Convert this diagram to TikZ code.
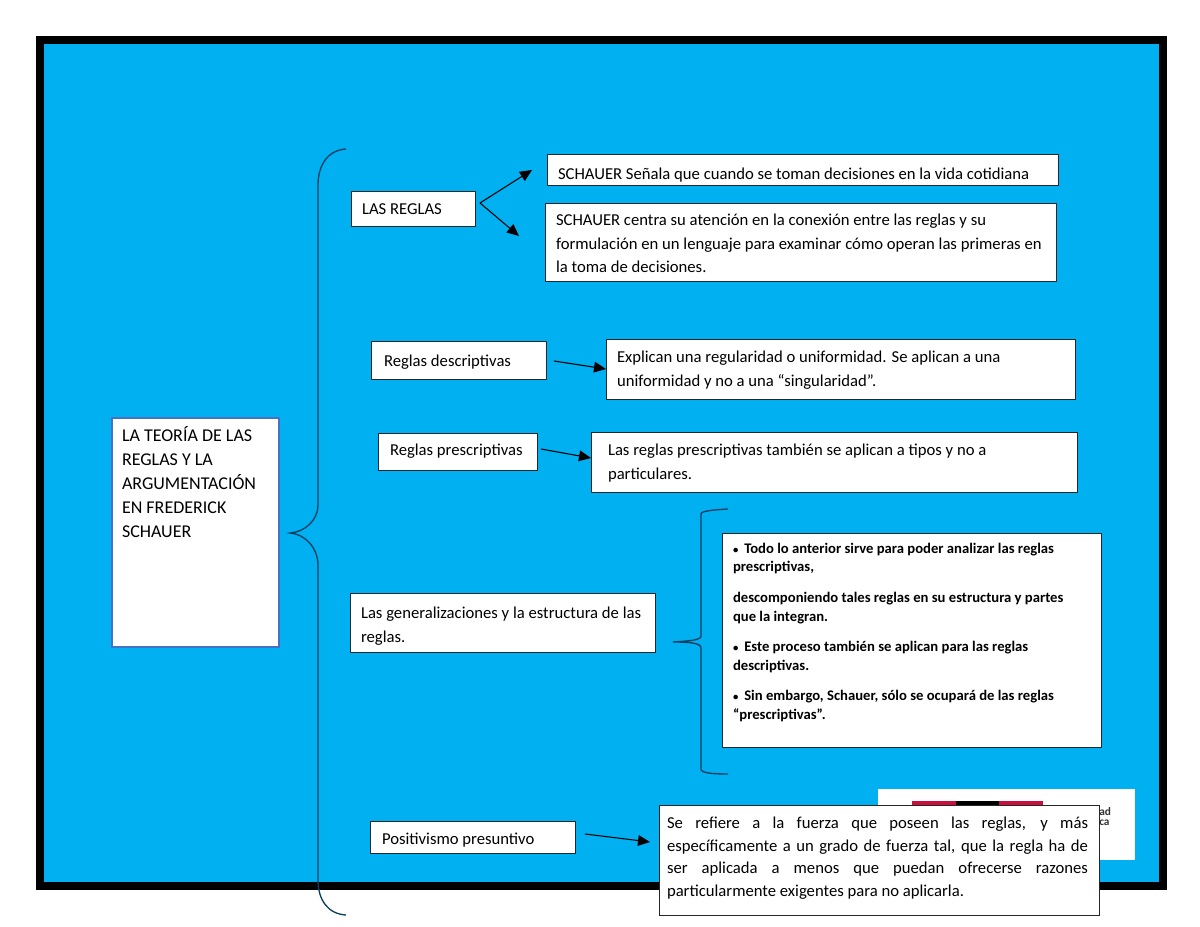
\documentclass[tikz,border=0pt]{standalone}
\usepackage{fontspec}
\setmainfont{Carlito}
\usetikzlibrary{arrows.meta}
\newlength\px \setlength\px{0.75pt}
\definecolor{skyb}{HTML}{00B0F0}
\definecolor{bracec}{HTML}{0B3F60}
\definecolor{mainb}{HTML}{4472C4}
\definecolor{logor}{HTML}{C8103F}
\tikzset{
  boxstyle/.style={draw=black!85,line width=0.75pt,fill=white,inner sep=0pt,anchor=north west,outer sep=0pt},
  mainstyle/.style={draw=mainb,line width=1.6pt,fill=white,inner sep=0pt,anchor=north west,outer sep=0pt},
  conn/.style={black,line width=0.8pt,-{Triangle[length=9pt,width=8pt]}},
  bracel/.style={bracec,line width=1pt},
}
\newcommand{\bxtext}{\fontsize{12.5}{17.6}\selectfont}
\newcommand{\smbul}{{\fontsize{8}{14}\selectfont•}\hspace{2pt}}
\newcommand{\bx}[9]{%
  \node[boxstyle] (#1) at (#2,#3) {\hspace*{#6\px}\parbox[c][\numexpr#5-#3\relax\px][t]{\dimexpr\numexpr#4-#2-#6-#7\relax\px}{\vspace*{#8\px}\bxtext #9}\hspace*{#7\px}};}
\begin{document}
\begin{tikzpicture}[x=0.75pt,y=-0.75pt]
\useasboundingbox (0,0) rectangle (1200,927);
\fill[white] (0,0) rectangle (1200,927);
% frame
\path[fill=skyb,draw=black,line width=6pt] (40,40) rectangle (1162.5,886);
% logo
\fill[white] (878,789) rectangle (1135,860);
\fill[logor] (912,801) rectangle (956,815);
\fill[black] (956,801) rectangle (999,815);
\fill[logor] (999,801) rectangle (1043,815);
\node[font=\fontsize{8.5}{8.5}\selectfont\bfseries,text=black!80,inner sep=0pt,anchor=west] (logoa) at (1099,812) {ad};
\node[font=\fontsize{8.5}{8.5}\selectfont\bfseries,text=black!80,inner sep=0pt,anchor=west] (logob) at (1099,823) {ca};
% braces
\coordinate (bt) at (346,149);
\coordinate (btip) at (290,533);
\coordinate (bb) at (346,915);
\draw[bracel] (bt) .. controls (328,150) and (318,165) .. (318,185) -- (318,505) .. controls (318,520) and (305,532) .. (btip) .. controls (305,534) and (318,548) .. (318,565) -- (318,880) .. controls (318,900) and (328,914) .. (bb);
\coordinate (st) at (728,509);
\coordinate (stip) at (673,642);
\coordinate (sb) at (728,774);
\draw[bracel] (st) .. controls (712,510) and (701,511) .. (701,514) -- (701,636) .. controls (701,640) and (690,641) .. (stip) .. controls (690,642) and (701,643) .. (701,648) -- (701,769) .. controls (701,773) and (712,774) .. (sb);
% boxes
\begin{scope}[boxstyle/.style=mainstyle]
\bx{main}{112}{418}{279}{647}{10}{2}{8}{\fontsize{13.5}{18}\selectfont LA TEORÍA DE LAS\\REGLAS Y LA\\ARGUMENTACIÓN\\EN FREDERICK\\SCHAUER}
\end{scope}
\bx{reglas}{351}{192}{475}{227}{11}{4}{12}{LAS REGLAS}
\bx{sa}{547}{155}{1058}{186}{11}{4}{13}{SCHAUER Señala que cuando se toman decisiones en la vida cotidiana}
\bx{sb}{545}{204}{1056}{282}{11}{4}{10}{SCHAUER centra su atención en la conexión entre las reglas y su\\formulación en un lenguaje para examinar cómo operan las primeras en\\la toma de decisiones.}
\bx{desc}{371}{342}{546}{380}{13}{4}{13}{Reglas descriptivas}
\bx{expl}{606}{340}{1075}{399}{11}{4}{11}{Explican una regularidad o uniformidad. Se aplican a una\\uniformidad y no a una “singularidad”.}
\bx{presc}{378}{433}{537}{470}{12}{4}{11}{Reglas prescriptivas}
\bx{lasp}{591}{432}{1077}{492}{17}{4}{12}{Las reglas prescriptivas también se aplican a tipos y no a\\particulares.}
\bx{gen}{350}{593}{655}{652}{11}{4}{14}{Las generalizaciones y la estructura de las\\reglas.}
\bx{todo}{722}{533}{1101}{747}{11}{4}{10}{\fontsize{11}{14}\selectfont\bfseries \smbul{} Todo lo anterior sirve para poder analizar las reglas\\prescriptivas,\par\vspace{8.8pt}descomponiendo tales reglas en su estructura y partes\\que la integran.\par\vspace{8.8pt}\smbul{} Este proceso también se aplican para las reglas\\descriptivas.\par\vspace{8.8pt}\smbul{} Sin embargo, Schauer, sólo se ocupará de las reglas\\“prescriptivas”.}
\bx{posi}{370}{821}{575}{853}{12}{4}{12}{Positivismo presuntivo}
\bx{posb}{659}{805}{1099}{915}{8}{11}{12}{\fontsize{12.5}{17}\selectfont Se refiere a la fuerza que poseen las reglas, y más\linebreak específicamente a un grado de fuerza tal, que la regla ha de\linebreak ser aplicada a menos que puedan ofrecerse razones\linebreak particularmente exigentes para no aplicarla.}
% connectors
\coordinate (ra) at (480,203);
\coordinate (ea) at (532,170);
\coordinate (eb) at (519,236);
\coordinate (da) at (554,361);
\coordinate (pa) at (541,449);
\coordinate (qa) at (585,834);
\coordinate (qb) at (650,842);
\draw[conn] (ra) -- (ea);
\draw[conn] (ra) -- (eb);
\draw[conn] (da) -- (expl.west |- 0,369);
\draw[conn] (pa) -- (lasp.west |- 0,458);
\draw[conn] (qa) -- (qb);
\end{tikzpicture}
\end{document}
